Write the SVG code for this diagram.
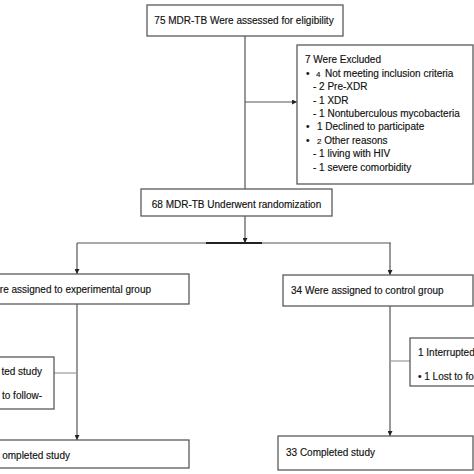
<svg xmlns="http://www.w3.org/2000/svg" width="474" height="474" viewBox="0 0 474 474">
<style>
.box{fill:#fff;stroke:#5a5a5a;stroke-width:1.3}
.t{font-family:"Liberation Sans",Arial,sans-serif;font-size:10px;fill:#111;stroke:#111;stroke-width:0.15}
.s{font-size:8px}
.ln{fill:none;stroke:#555;stroke-width:1.2}
.lt{fill:none;stroke:#999;stroke-width:1.2}
</style>
<defs>
<marker id="ah" viewBox="0 0 10 10" refX="10" refY="5" markerWidth="5" markerHeight="5" orient="auto" markerUnits="userSpaceOnUse">
<path d="M0,0 L10,5 L0,10 z" fill="#222"/>
</marker>
</defs>
<rect width="474" height="474" fill="#fff"/>
<g id="connectors">
<line class="ln" x1="245" y1="36" x2="245" y2="189"/>
<line class="ln" x1="245" y1="102" x2="297" y2="102" marker-end="url(#ah)"/>
<line class="ln" x1="245" y1="216" x2="245" y2="243" marker-end="url(#ah)"/>
<line class="ln" x1="77" y1="243" x2="391" y2="243"/>
<line x1="206" y1="243" x2="262" y2="243" stroke="#222" stroke-width="1.8"/>
<line class="ln" x1="77" y1="243" x2="77" y2="274" marker-end="url(#ah)"/>
<line class="ln" x1="390" y1="243" x2="390" y2="275" marker-end="url(#ah)"/>
<line class="ln" x1="77" y1="304" x2="77" y2="440" marker-end="url(#ah)"/>
<line class="lt" x1="54" y1="373" x2="77" y2="373"/>
<line class="ln" x1="390" y1="306" x2="390" y2="436" marker-end="url(#ah)"/>
<line class="lt" x1="390" y1="361" x2="410" y2="361"/>
</g>
<g id="n-assessed">
<rect class="box" x="147" y="5" width="196" height="31"/>
<text class="t" x="244" y="23.5" text-anchor="middle">75 MDR-TB Were assessed for eligibility</text>
</g>
<g id="n-excluded">
<rect class="box" x="297" y="45" width="176" height="139"/>
<text class="t" x="305" y="62.5">7 Were Excluded</text>
<text class="t" x="306" y="76.5">•</text>
<text class="t" x="316" y="76.5"><tspan class="s">4</tspan><tspan x="325">Not meeting inclusion criteria</tspan></text>
<text class="t" x="313" y="90">- 2 Pre-XDR</text>
<text class="t" x="313" y="103.5">- 1 XDR</text>
<text class="t" x="313" y="117">- 1 Nontuberculous mycobacteria</text>
<text class="t" x="306" y="130">•</text>
<text class="t" x="317" y="130">1 Declined to participate</text>
<text class="t" x="306" y="143.5">•</text>
<text class="t" x="317" y="143.5"><tspan class="s">2</tspan> Other reasons</text>
<text class="t" x="313" y="157">- 1 living with HIV</text>
<text class="t" x="313" y="170.5">- 1 severe comorbidity</text>
</g>
<g id="n-random">
<rect class="box" x="141" y="189" width="191" height="27"/>
<text class="t" x="236.5" y="207.5" text-anchor="middle">68 MDR-TB Underwent randomization</text>
</g>
<g id="n-exp">
<rect class="box" x="-2" y="274" width="191" height="30"/>
<text class="t" x="151" y="292.5" text-anchor="end">re assigned to experimental group</text>
</g>
<g id="n-exp-lost">
<rect class="box" x="-2" y="357" width="56" height="52"/>
<text class="t" x="42" y="374.5" text-anchor="end">ted study</text>
<text class="t" x="42" y="398.5" text-anchor="end">to follow-</text>
</g>
<g id="n-exp-done">
<rect class="box" x="-2" y="440" width="191" height="28"/>
<text class="t" x="70" y="458.5" text-anchor="end">ompleted study</text>
</g>
<g id="n-ctrl">
<rect class="box" x="283" y="275" width="190" height="31"/>
<text class="t" x="291" y="293.5">34 Were assigned to control group</text>
</g>
<g id="n-ctrl-lost">
<rect class="box" x="410" y="338" width="70" height="48"/>
<text class="t" x="418" y="355.5">1 Interrupted</text>
<text class="t" x="418" y="379.5">• 1 Lost to fo</text>
</g>
<g id="n-ctrl-done">
<rect class="box" x="278" y="436" width="195" height="34"/>
<text class="t" x="286" y="455.5">33 Completed study</text>
</g>
</svg>
